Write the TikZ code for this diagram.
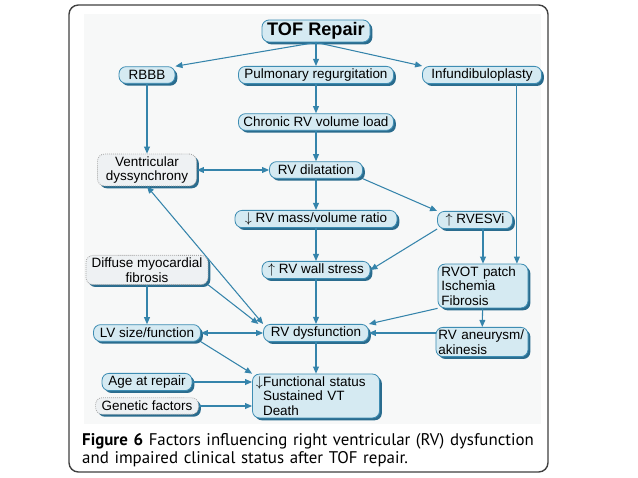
\documentclass[tikz,border=0pt]{standalone}
\usepackage{fontspec}
\setmainfont{Liberation Sans}
\newfontfamily\capfont{PT Sans}
\usetikzlibrary{shapes, arrows.meta, positioning, calc, shadows, backgrounds}
\definecolor{boxfill}{HTML}{D5EAF2}
\definecolor{boxline}{HTML}{3E8DB3}
\definecolor{shdw}{HTML}{2A6C8E}
\definecolor{arcol}{HTML}{3584AB}
\definecolor{dfill}{HTML}{EEF1F3}
\definecolor{panel}{HTML}{F7F8F8}

\begin{document}
\begin{tikzpicture}[x=0.03cm, y=-0.03cm,
            box/.style={rectangle, rounded corners=6pt, draw=boxline, fill=boxfill, line width=0.7pt, minimum height=0.5cm, inner sep=2pt, font=\fontsize{11.5}{12.5}\selectfont, drop shadow={shadow xshift=2pt, shadow yshift=-2pt, fill=shdw, opacity=1}},
            dbox/.style={box, draw=gray!70, densely dotted, fill=dfill},
            wd/.style={minimum width=#1*0.03cm},
            ar/.style={draw=arcol, line width=0.9pt, -{Triangle[length=6pt, width=5pt]}},
            dar/.style={ar, {Triangle[length=6pt, width=5pt]}-{Triangle[length=6pt, width=5pt]}}]
            \useasboundingbox (0,0) rectangle (638,478);
            \draw[rounded corners=8pt, line width=1.2pt, draw=black!75, fill=white] (69,5) rectangle (548,472);
            \fill[panel] (84,14) rectangle (541,424);
            % top row
            \node[box, font=\bfseries\fontsize{15.5}{17}\selectfont, wd=108, minimum height=0.66cm] (tof) at (316,31) {TOF Repair};
            \node[box, wd=56]  (rbbb)   at (147,75)  {RBBB};
            \node[box, wd=155] (pulm)   at (316,75)  {Pulmonary regurgitation};
            \node[box, wd=119] (infund) at (482,75)  {Infundibuloplasty};
            \node[box, wd=155] (chron)  at (316,122) {Chronic RV volume load};
            % middle
            \node[dbox, wd=99, align=center] (dyss) at (147,170) {Ventricular\\dyssynchrony};
            \node[box, wd=93]  (dilat)  at (316,170) {RV dilatation};
            \node[box, wd=162] (mass)   at (316,219) {$\downarrow$ RV mass/volume ratio};
            \node[box, wd=75]  (esvi)   at (475,220) {$\uparrow$ RVESVi};
            \node[dbox, wd=122, align=center] (diff) at (147,270) {Diffuse myocardial\\fibrosis};
            \node[box, wd=108] (wall)   at (316,270) {$\uparrow$ RV wall stress};
            \node[box, wd=90, text width=2.5cm, align=left] (patch) at (483,286) {RVOT patch\\Ischemia\\Fibrosis};
            % bottom
            \node[box, wd=107] (lv)     at (147,333) {LV size/function};
            \node[box, wd=105] (rvd)    at (316,333) {RV dysfunction};
            \node[box, wd=91, text width=2.62cm, align=left] (aneu) at (482,342) {RV aneurysm/\\akinesis};
            \node[box, wd=90]  (age)    at (147,382) {Age at repair};
            \node[dbox, wd=103] (gen)   at (147,406) {Genetic factors};
            \node[box, wd=127, text width=3.6cm, align=left] (func) at (316,396) {$\downarrow$Functional status\\\hphantom{$\downarrow$}Sustained VT\\\hphantom{$\downarrow$}Death};
            \node[anchor=north west, inner sep=0pt, text width=14.2cm, align=left, font=\capfont\fontsize{14.4}{15.6}\selectfont] (cap) at (82,433) {\textbf{Figure 6} Factors influencing right ventricular (RV) dysfunction\\and impaired clinical status after TOF repair.};
            % connectors
            \draw[ar] (tof.south) -- (rbbb.north east);
            \draw[ar] (tof.south) -- (pulm.north);
            \draw[ar] (tof.south) -- (infund.north west);
            \draw[ar] (pulm) -- (chron);
            \draw[ar] (chron) -- (dilat);
            \draw[ar] (rbbb) -- (dyss);
            \draw[dar] (dyss) -- (dilat);
            \draw[ar] (dilat) -- (mass);
            \draw[ar] (dilat.south east) -- (esvi.north west);
            \draw[ar] (mass) -- (wall);
            \draw[ar] (esvi.south west) -- (wall.east);
            \draw[ar] (esvi.south -| patch.north) -- (patch.north);
            \coordinate (k) at ($(infund.south east)+(-25,0)$);
            \draw[ar] (k) -- (k |- patch.north);
            \draw[ar] (diff) -- (lv);
            \draw[ar] (diff.south east) -- ([xshift=-4pt]rvd.north west);
            \draw[dar] (dyss.south) -- (rvd.north west);
            \draw[ar] (wall) -- (rvd);
            \draw[ar] (patch.south west) -- (rvd.north east);
            \draw[ar] (patch) -- (aneu);
            \draw[ar] (rvd.east -| aneu.west) -- (rvd.east);
            \draw[dar] (lv) -- (rvd);
            \draw[ar] (lv.south east) -- (func.north west);
            \draw[ar] (rvd) -- (func);
            \draw[ar] (age) -- (age -| func.west);
            \draw[ar] (gen) -- (gen -| func.west);
\end{tikzpicture}
\end{document}
